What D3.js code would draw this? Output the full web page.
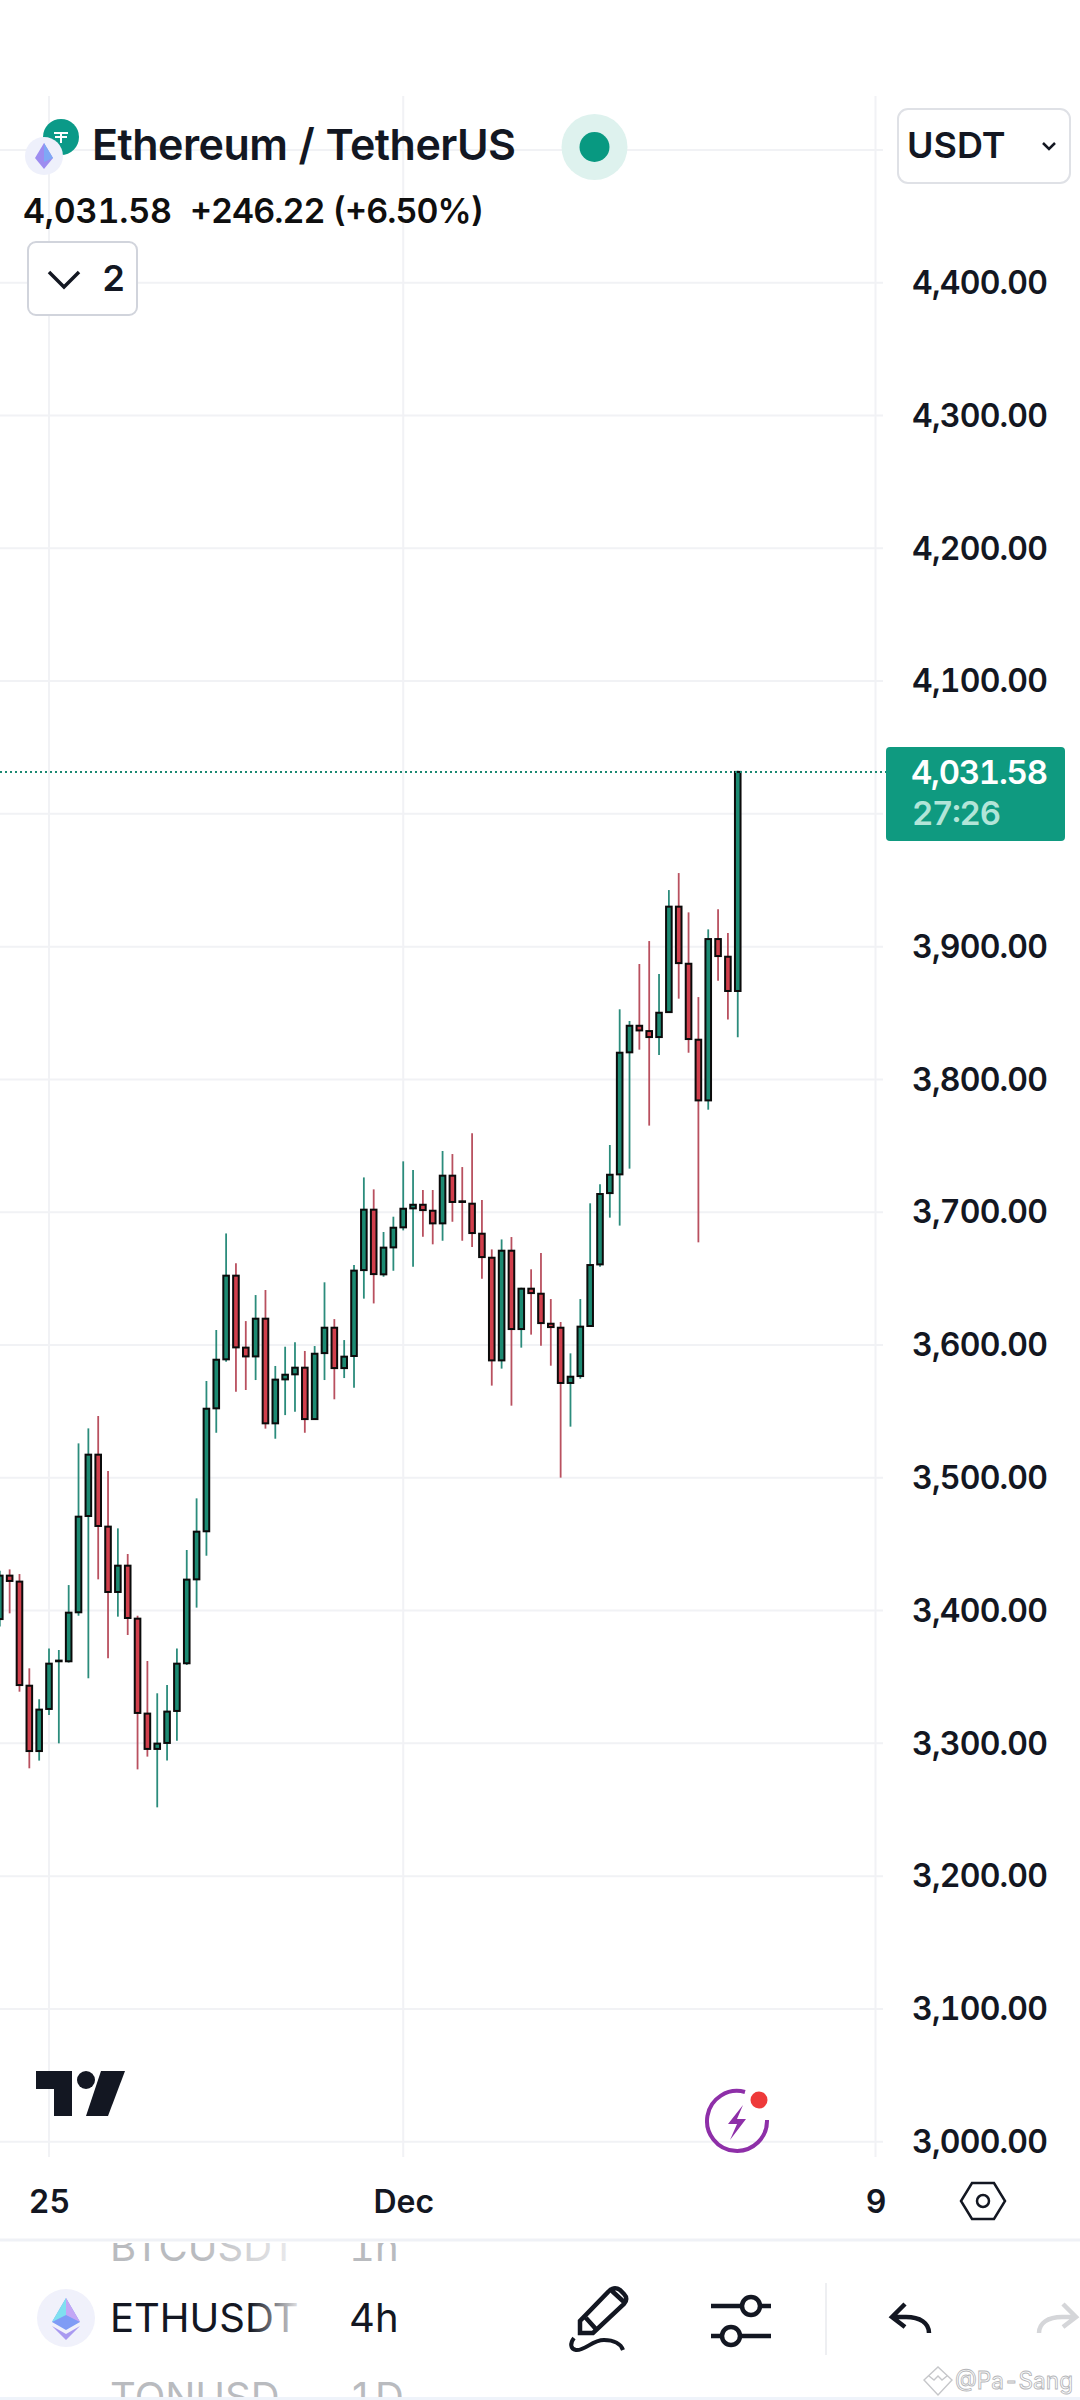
<!DOCTYPE html>
<html>
<head>
<meta charset="utf-8">
<script src="https://cdn.jsdelivr.net/npm/d3@7"></script>
<style>
  html, body { margin: 0; padding: 0; background: #fff; }
  svg { display: block; font-family: Inter, "Noto Sans", sans-serif; font-variant-numeric: tabular-nums; }
</style>
</head>
<body>
<svg id="chart" width="1080" height="2400"></svg>
<script>
// ETHUSDT 4h, prices
const opens = [3393.6,3426.3,3421.8,3343.4,3294.2,3325.9,3361.8,3361.8,3398.7,3471.2,3517.4,3463.2,3414.0,3433.8,3393.9,3322.4,3295.8,3300.3,3324.4,3360.3,3423.5,3459.7,3552.3,3589.2,3652.2,3598.0,3591.4,3619.8,3541.0,3574.1,3577.9,3582.9,3544.2,3593.9,3613.0,3582.6,3591.7,3656.4,3701.9,3653.2,3673.5,3688.6,3702.9,3705.6,3701.1,3691.6,3727.5,3708.2,3706.4,3683.8,3665.7,3588.4,3671.0,3612.0,3642.4,3638.6,3616.0,3613.0,3571.4,3576.6,3614.3,3660.7,3714.4,3728.5,3820.4,3840.4,3836.4,3831.9,3850.7,3930.1,3887.1,3829.9,3784.2,3905.7,3892.4,3866.6];
const highs = [3430.0,3431.0,3427.5,3356.5,3333.2,3371.5,3370.3,3419.2,3525.9,3537.2,3546.5,3505.1,3461.9,3442.6,3396.1,3362.0,3337.7,3344.0,3371.5,3445.6,3484.5,3572.9,3611.3,3684.0,3661.5,3618.0,3637.6,3641.4,3584.2,3598.7,3602.0,3595.5,3599.2,3647.2,3619.5,3603.7,3660.2,3726.2,3717.2,3685.1,3696.6,3738.3,3731.7,3716.7,3716.7,3746.1,3743.8,3734.0,3759.4,3709.2,3672.0,3679.5,3681.3,3643.1,3657.0,3669.3,3634.6,3617.3,3593.7,3634.6,3706.7,3721.0,3750.6,3852.8,3844.0,3886.9,3904.2,3879.4,3942.6,3955.4,3925.8,3862.0,3913.0,3928.1,3910.2,4032.5];
const lows = [3388.0,3397.9,3338.9,3281.2,3287.0,3321.3,3300.0,3360.8,3396.1,3349.0,3423.5,3364.0,3395.4,3381.6,3280.4,3290.0,3251.8,3287.0,3302.0,3359.0,3402.2,3441.3,3533.9,3587.4,3564.8,3566.1,3573.6,3537.0,3529.4,3547.2,3549.8,3533.9,3544.2,3573.6,3559.1,3575.1,3567.8,3634.9,3631.3,3651.4,3655.9,3686.3,3658.9,3681.5,3675.8,3678.5,3692.8,3678.5,3673.8,3649.9,3569.4,3582.2,3554.3,3598.0,3607.8,3599.5,3584.4,3500.1,3538.5,3574.6,3614.0,3659.0,3695.9,3689.9,3732.8,3822.4,3765.2,3818.4,3850.5,3860.8,3820.1,3677.3,3777.2,3874.3,3845.2,3831.7];
const closes = [3426.3,3422.3,3343.9,3294.2,3325.4,3360.0,3362.3,3398.4,3470.7,3517.4,3463.7,3414.0,3433.8,3394.4,3322.9,3295.8,3299.8,3323.9,3360.0,3423.3,3459.4,3552.0,3588.9,3652.2,3598.2,3591.4,3619.8,3541.0,3573.9,3577.6,3582.9,3544.2,3593.4,3613.0,3582.6,3591.2,3656.0,3701.9,3653.4,3673.3,3688.3,3702.6,3705.6,3701.6,3691.6,3727.5,3707.7,3707.7,3684.3,3666.2,3588.4,3671.0,3612.0,3642.4,3639.1,3616.5,3613.5,3571.4,3576.1,3613.8,3660.2,3713.7,3728.2,3820.1,3840.4,3836.9,3831.9,3850.2,3930.1,3887.6,3830.4,3784.2,3905.7,3892.9,3866.6,4031.58];

const priceTicks = [4500,4400,4300,4200,4100,4000,3900,3800,3700,3600,3500,3400,3300,3200,3100,3000];
const priceLabels = [4400,4300,4200,4100,3900,3800,3700,3600,3500,3400,3300,3200,3100,3000];
const timeBars = [5, 41, 89];
const timeLabels = ["25", "Dec", "9"];
const lastPrice = 4031.58;

const upColor = "#1c8a72", downColor = "#d13f4c";
const upWick = "#2b8c7c", downWick = "#b9505f";
const textColor = "#131722", gridColor = "#f1f2f5";

const svg = d3.select("#chart");

const y = d3.scaleLinear().domain([3000, 4400]).range([2141.7, 282.7]);
const x = d3.scaleLinear().domain([5, 89]).range([49, 875.5]);

// grid
const plot = svg.append("g");
plot.append("g").selectAll("line").data(priceTicks).join("line")
  .attr("x1", 0).attr("x2", 883)
  .attr("y1", d => y(d)).attr("y2", d => y(d))
  .attr("stroke", gridColor).attr("stroke-width", 2);
plot.append("g").selectAll("line").data(timeBars).join("line")
  .attr("x1", d => x(d)).attr("x2", d => x(d))
  .attr("y1", 96).attr("y2", 2157)
  .attr("stroke", gridColor).attr("stroke-width", 2);

// candles, clipped at the left edge by the page itself
const bars = d3.range(opens.length);
const candles = plot.append("g").selectAll("g").data(bars).join("g");
candles.append("line")
  .attr("x1", i => x(i)).attr("x2", i => x(i))
  .attr("y1", i => y(highs[i])).attr("y2", i => y(lows[i]))
  .attr("stroke", i => closes[i] >= opens[i] ? upWick : downWick)
  .attr("stroke-width", 1.8);
candles.append("rect")
  .attr("x", i => x(i) - 2.8).attr("width", 5.6)
  .attr("y", i => y(Math.max(opens[i], closes[i])))
  .attr("height", i => Math.abs(y(opens[i]) - y(closes[i])))
  .attr("fill", i => closes[i] >= opens[i] ? upColor : downColor)
  .attr("stroke", "#0b0b0b").attr("stroke-width", 2);

// last price line and tag
plot.append("line")
  .attr("x1", 0).attr("x2", 886)
  .attr("y1", y(lastPrice)).attr("y2", y(lastPrice))
  .attr("stroke", "#1c8a72").attr("stroke-width", 2)
  .attr("stroke-dasharray", "2 3");

svg.append("rect").attr("x", 886).attr("y", 747).attr("width", 179).attr("height", 94)
  .attr("rx", 4).attr("fill", "#0f9a80");
svg.append("text").attr("x", 911).attr("y", 784).text("4,031.58").attr("textLength", 137)
  .attr("fill", "#fff").attr("font-size", 33).attr("font-weight", 600);
svg.append("text").attr("x", 912).attr("y", 825).text("27:26").attr("textLength", 89)
  .attr("fill", "#b2e5d8").attr("font-size", 33).attr("font-weight", 600);

// price axis
const yAxis = d3.axisRight(y).tickValues(priceLabels).tickFormat(d3.format(",.2f")).tickSize(0).tickPadding(0);
const yG = svg.append("g").attr("transform", "translate(980,0.5)").call(yAxis);
yG.select(".domain").remove();
yG.selectAll("text").attr("fill", textColor).attr("font-size", 32).attr("font-weight", 600)
  .attr("text-anchor", "middle").attr("textLength", 136).attr("font-family", "Inter");

// time axis
const xAxis = d3.axisBottom(x).tickValues(timeBars).tickFormat((d, i) => timeLabels[i]).tickSize(0).tickPadding(0);
const xG = svg.append("g").attr("transform", "translate(0,2190)").call(xAxis);
xG.select(".domain").remove();
xG.selectAll("text").attr("fill", textColor).attr("font-size", 32).attr("font-weight", 600)
  .attr("font-family", "Inter");

// header
svg.append("circle").attr("cx", 61).attr("cy", 137).attr("r", 18).attr("fill", "#0b9a88");
svg.append("path").attr("d", "M54 133h14M61 133v10M55 137h12").attr("stroke", "#fff").attr("stroke-width", 2).attr("fill", "none");
svg.append("circle").attr("cx", 44).attr("cy", 156).attr("r", 19).attr("fill", "#eef0fb");
svg.append("path").attr("d", "M44 143l9 15-9 11-9-11z").attr("fill", "#9d8cf0");
svg.append("path").attr("d", "M44 143l9 15-9 4z").attr("fill", "#7fa8f5");

svg.append("text").attr("x", 92).attr("y", 160).text("Ethereum / TetherUS").attr("textLength", 424)
  .attr("fill", textColor).attr("font-size", 43).attr("font-weight", 600);
svg.append("text").attr("x", 23).attr("y", 223).text("4,031.58").attr("textLength", 149)
  .attr("fill", "#0f0f0f").attr("font-size", 34).attr("font-weight", 600);
svg.append("text").attr("x", 190).attr("y", 223).text("+246.22 (+6.50%)").attr("textLength", 294)
  .attr("fill", "#0f0f0f").attr("font-size", 34).attr("font-weight", 600);

svg.append("circle").attr("cx", 594.5).attr("cy", 147).attr("r", 33).attr("fill", "#def2ee");
svg.append("circle").attr("cx", 594.5).attr("cy", 147).attr("r", 15).attr("fill", "#089981");

// buttons
svg.append("rect").attr("x", 28).attr("y", 242).attr("width", 109).attr("height", 73).attr("rx", 8)
  .attr("fill", "#fff").attr("stroke", "#d1d4dc").attr("stroke-width", 2);
svg.append("path").attr("d", "M49 272l15 15 15-15").attr("fill", "none").attr("stroke", textColor).attr("stroke-width", 3.5);
svg.append("text").attr("x", 102).attr("y", 291).text("2")
  .attr("fill", textColor).attr("font-size", 36).attr("font-weight", 600);

svg.append("rect").attr("x", 898).attr("y", 109).attr("width", 172).attr("height", 74).attr("rx", 10)
  .attr("fill", "#fff").attr("stroke", "#dfe1e6").attr("stroke-width", 2);
svg.append("text").attr("x", 907).attr("y", 158).text("USDT")
  .attr("fill", textColor).attr("font-size", 36).attr("font-weight", 600);
svg.append("path").attr("d", "M1043 143l6 6 6-6").attr("fill", "none").attr("stroke", textColor).attr("stroke-width", 2.5);

// tradingview logo
svg.append("path").attr("d", "M36 2071h36v45h-18v-27h-18z").attr("fill", textColor);
svg.append("circle").attr("cx", 86).attr("cy", 2080).attr("r", 9).attr("fill", textColor);
svg.append("path").attr("d", "M101 2071h24l-17 45h-22z").attr("fill", textColor);

// lightning button
svg.append("path").attr("d", "M745 2092A30 30 0 1 0 767 2120").attr("fill", "none").attr("stroke", "#8e2fa8").attr("stroke-width", 4);
svg.append("path").attr("d", "M743 2105l-15 19h9l-7 16 16-21h-9z").attr("fill", "#8e2fa8");
svg.append("circle").attr("cx", 759).attr("cy", 2100).attr("r", 8.5).attr("fill", "#ee3a3a");

// hexagon settings
svg.append("path").attr("d", "M972 2183h22l11 18-11 18h-22l-11-18z").attr("fill", "none").attr("stroke", textColor).attr("stroke-width", 2.5);
svg.append("circle").attr("cx", 983).attr("cy", 2201).attr("r", 6).attr("fill", "none").attr("stroke", textColor).attr("stroke-width", 2.5);

// bottom toolbar
const fade = svg.append("defs");
const grad = fade.append("linearGradient").attr("id", "symFade").attr("gradientUnits", "userSpaceOnUse")
  .attr("x1", 250).attr("x2", 296).attr("y1", 0).attr("y2", 0);
grad.append("stop").attr("offset", 0).attr("stop-color", textColor);
grad.append("stop").attr("offset", 1).attr("stop-color", "#d8d9dc");
const fadeTop = fade.append("linearGradient").attr("id", "symFadeGray").attr("gradientUnits", "userSpaceOnUse")
  .attr("x1", 200).attr("x2", 296).attr("y1", 0).attr("y2", 0);
fadeTop.append("stop").attr("offset", 0).attr("stop-color", "#b9bbbf");
fadeTop.append("stop").attr("offset", 1).attr("stop-color", "#ececee");
fade.append("clipPath").attr("id", "rows").append("rect").attr("x", 0).attr("y", 2243).attr("width", 1080).attr("height", 154);

const rows = svg.append("g").attr("clip-path", "url(#rows)").attr("font-size", 40).attr("font-weight", 400);
rows.append("text").attr("x", 110).attr("y", 2261).attr("fill", "url(#symFadeGray)").text("BTCUSDT");
rows.append("text").attr("x", 349).attr("y", 2261).attr("fill", "#b9bbbf").text("1h");
rows.append("text").attr("x", 110).attr("y", 2332).attr("fill", "url(#symFade)").text("ETHUSDT");
rows.append("text").attr("x", 349).attr("y", 2332).attr("fill", textColor).text("4h");
rows.append("text").attr("x", 110).attr("y", 2411).attr("fill", "#b9bbbf").text("TONUSD");
rows.append("text").attr("x", 349).attr("y", 2411).attr("fill", "#b9bbbf").text("1D");

svg.append("line").attr("x1", 0).attr("x2", 1080).attr("y1", 2240).attr("y2", 2240).attr("stroke", "#eff1f6").attr("stroke-width", 3);
svg.append("rect").attr("x", 0).attr("y", 2397).attr("width", 1080).attr("height", 3).attr("fill", "#eff3fa");

svg.append("circle").attr("cx", 66).attr("cy", 2318).attr("r", 29).attr("fill", "#f0f1fb");
svg.append("path").attr("d", "M66 2298l14 24-14 8-14-8z").attr("fill", "#7f9cf5");
svg.append("path").attr("d", "M66 2298l14 24-14-7z").attr("fill", "#c3a6f5");
svg.append("path").attr("d", "M66 2298l-14 24 14-7z").attr("fill", "#7fe0f0");
svg.append("path").attr("d", "M52 2326l14 8 14-8-14 14z").attr("fill", "#a99af0");

const icons = svg.append("g").attr("fill", "none").attr("stroke", textColor).attr("stroke-width", 4.5);
icons.append("path").attr("d", "M580 2333v-12l28-29c3-4 8-5 12-2l4 4c3 3 3 7 0 10l-31 29z M612 2291l12 11 M586 2318l9 10");
icons.append("path").attr("d", "M574 2338c-4 5-4 11 2 12 9 1 16-10 28-10 10 0 17 4 19 10").attr("stroke-width", 4);
icons.append("path").attr("d", "M711 2306h31M760 2306h11M711 2336h11M740 2336h31");
icons.append("circle").attr("cx", 751).attr("cy", 2306).attr("r", 9);
icons.append("circle").attr("cx", 731).attr("cy", 2336).attr("r", 9);
icons.append("path").attr("d", "M905 2304l-13 13 13 10M892 2317h14c14 0 23 6 23 16");
icons.append("path").attr("d", "M1063 2304l13 13-13 10M1076 2317h-14c-14 0-23 6-23 16").attr("stroke", "#d5d6d9");

svg.append("line").attr("x1", 826).attr("x2", 826).attr("y1", 2283).attr("y2", 2355).attr("stroke", "#eeeff2").attr("stroke-width", 2);

// watermark
svg.append("path").attr("d", "M924 2380l14-13 14 13-14 15z M929 2376l5 4 4-4 4 4 5-4")
  .attr("fill", "none").attr("stroke", "#c6c7ca").attr("stroke-width", 1.4);
svg.append("text").attr("x", 955).attr("y", 2389).text("@Pa-Sang").attr("textLength", 118)
  .attr("lengthAdjust", "spacingAndGlyphs")
  .attr("fill", "#fff").attr("stroke", "#b5b6b9").attr("stroke-width", 0.9).attr("font-size", 24);
</script>
</body>
</html>
